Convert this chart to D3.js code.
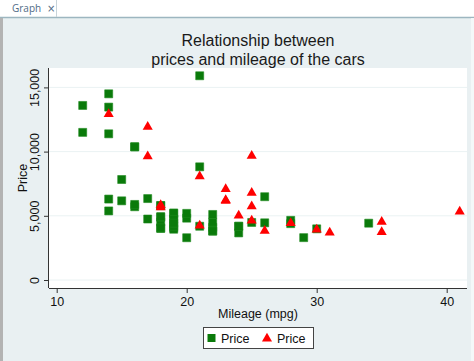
<!DOCTYPE html>
<html><head><meta charset="utf-8">
<script src="https://cdn.jsdelivr.net/npm/d3@7"></script>
<style>html,body{margin:0;padding:0;background:#fff;overflow:hidden}</style>
</head><body>
<script>
const domesticMpg = [22,17,22,20,15,18,26,20,16,19,14,14,21,29,16,22,22,24,19,30,18,16,17,28,21,12,12,14,22,14,15,18,14,20,21,19,19,18,19,24,16,28,34,25,26,18,18,18,19,19,19,24];
const domesticPrice = [4099,4749,3799,4816,7827,5788,4453,5189,10372,4082,11385,14500,15906,3299,5705,4504,5104,3667,3955,3984,4010,5886,6342,4389,4187,11497,13594,13466,3829,5379,6165,4516,6303,3291,8814,5172,4733,4890,4181,4195,10371,4647,4425,4482,6486,4060,5798,4934,5222,4723,4424,4172];
const foreignMpg = [17,23,25,23,35,24,21,21,25,28,30,14,26,35,18,31,18,23,41,25,25,17];
const foreignPrice = [9690,6295,9735,6229,4589,5079,8129,4296,5799,4499,3995,12990,3895,3798,5899,3748,5719,7140,5397,4697,6850,11995];
const xTicks = [10,20,30,40];
const yTicks = [0,5000,10000,15000];
const titleLines = ["Relationship between","prices and mileage of the cars"];
const legendLabels = ["Price","Price"];

const W=474,H=361;
const svg=d3.select("body").append("svg").attr("width",W).attr("height",H);
const font="'Liberation Sans', Arial, sans-serif";

// window chrome
svg.append("rect").attr("x",0).attr("y",0).attr("width",W).attr("height",H).attr("fill","#e9f0f2");
svg.append("rect").attr("x",0).attr("y",0).attr("width",W).attr("height",17).attr("fill","#ffffff");
svg.append("line").attr("x1",0).attr("x2",W).attr("y1",17.5).attr("y2",17.5).attr("stroke","#9db6c0").attr("stroke-width",1.5);
svg.append("line").attr("x1",56.5).attr("x2",56.5).attr("y1",0).attr("y2",17).attr("stroke","#c8d4da");
svg.append("text").attr("x",12).attr("y",12).attr("font-family","'Open Sans', sans-serif").attr("font-size",10).attr("fill","#4f6b86").text("Graph");
svg.append("text").attr("x",47).attr("y",12).attr("font-family","'DejaVu Sans', sans-serif").attr("font-size",10).attr("fill","#4f6b86").text("×");
svg.append("rect").attr("x",0).attr("y",18).attr("width",3).attr("height",H-18).attr("fill","#b3b3b3");
svg.append("rect").attr("x",471).attr("y",18).attr("width",3).attr("height",H-18).attr("fill","#f4f8f9");

// plot region
const L=49,R=467,T=68,B=288;
const x=d3.scaleLinear().domain([10,40]).range([56.7,446.7]);
const y=d3.scaleLinear().domain([0,15000]).range([280,87.4]);
svg.append("rect").attr("x",L).attr("y",T).attr("width",R-L).attr("height",B-T).attr("fill","#ffffff");

// grid
svg.append("g").selectAll("line").data(yTicks).join("line")
  .attr("x1",L).attr("x2",R).attr("y1",d=>y(d)).attr("y2",d=>y(d))
  .attr("stroke","#eaf2f3").attr("stroke-width",1);

// axes
const ax=svg.append("g").attr("transform",`translate(0,${B})`)
  .call(d3.axisBottom(x).tickValues(xTicks).tickSize(5).tickPadding(4).tickFormat(d3.format("d")));
ax.select(".domain").attr("d",`M${L},0.5H${R}`);
const ay=svg.append("g").attr("transform",`translate(${L},0)`)
  .call(d3.axisLeft(y).tickValues(yTicks).tickSize(5).tickFormat(d3.format(",")));
ay.select(".domain").attr("d",`M-0.5,${T}V${B}`);
[ax,ay].forEach(g=>{
  g.selectAll("path,line").attr("stroke","#333333");
  g.selectAll("text").attr("font-family",font).attr("font-size",12.5).attr("fill","#111");
});
ay.selectAll(".tick text").attr("text-anchor","middle").attr("transform",function(){
  return "translate(-14,0) rotate(-90)";}).attr("x",0).attr("dy","0.35em");

// axis titles
svg.append("text").attr("x",258).attr("y",318).attr("text-anchor","middle")
  .attr("font-family",font).attr("font-size",12.5).attr("fill","#111").text("Mileage (mpg)");
svg.append("text").attr("transform","translate(27,178) rotate(-90)").attr("text-anchor","middle")
  .attr("font-family",font).attr("font-size",12.5).attr("fill","#111").text("Price");

// title
svg.append("g").selectAll("text").data(titleLines).join("text")
  .attr("x",258).attr("y",(d,i)=>46+i*18.5).attr("text-anchor","middle")
  .attr("font-family",font).attr("font-size",16).attr("fill","#1a1a1a").text(d=>d);

const green="#0a7a0a", red="#ff0000";
const sq=d3.symbol().type(d3.symbolSquare).size(64);
const tri=d3.symbol().type(d3.symbolTriangle).size(44);

const dom=domesticMpg.map((m,i)=>({m,p:domesticPrice[i]}));
const forr=foreignMpg.map((m,i)=>({m,p:foreignPrice[i]}));
svg.append("g").selectAll("path").data(dom).join("path")
  .attr("d",sq).attr("transform",d=>`translate(${x(d.m)},${y(d.p)})`)
  .attr("fill",green).attr("stroke","#1e8a1e").attr("stroke-width",0.6);
svg.append("g").selectAll("path").data(forr).join("path")
  .attr("d",tri).attr("transform",d=>`translate(${x(d.m)},${y(d.p)+0.8})`)
  .attr("fill",red);

// legend
const lg=svg.append("g");
lg.append("rect").attr("x",203.5).attr("y",327.5).attr("width",110).attr("height",21).attr("fill","#fff").attr("stroke","#444");
lg.append("path").attr("d",sq).attr("transform","translate(211.5,338)").attr("fill",green);
lg.append("path").attr("d",tri).attr("transform","translate(267,338.5)").attr("fill",red);
lg.selectAll("text.l").data(legendLabels).join("text").attr("class","l")
  .attr("x",(d,i)=>i?277:221).attr("y",343).attr("font-family",font).attr("font-size",12.5).attr("fill","#111").text(d=>d);
</script>
</body></html>
